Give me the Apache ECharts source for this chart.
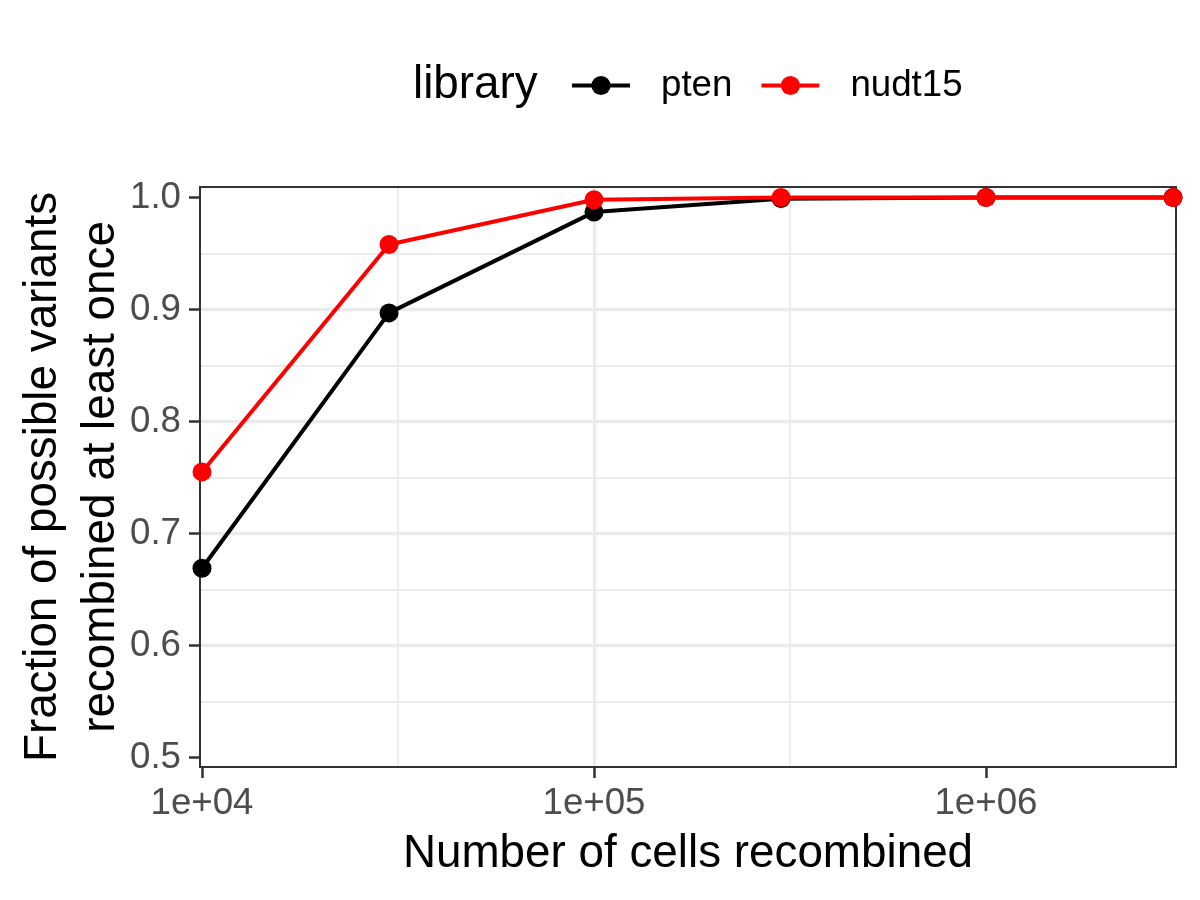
<!DOCTYPE html>
<html>
<head>
<meta charset="utf-8">
<script src="https://cdn.jsdelivr.net/npm/echarts@6/dist/echarts.min.js"></script>
<style>
  html, body { margin: 0; padding: 0; background: #ffffff; }
  #chart { width: 1200px; height: 900px; }
</style>
</head>
<body>
<div id="chart"></div>
<script>
// ---- data ----
const cells = [1e4, 3e4, 1e5, 3e5, 1e6, 3e6];
const ptenFraction = [0.669, 0.897, 0.987, 0.999, 1.0, 1.0];
const nudt15Fraction = [0.755, 0.958, 0.998, 1.0, 1.0, 1.0];
const seriesNames = ['pten', 'nudt15'];
const seriesColors = ['#000000', '#FF0000'];
const xTickValues = [1e4, 1e5, 1e6];
const xMinorGrid = [31623, 316228];
const yTickValues = [0.5, 0.6, 0.7, 0.8, 0.9, 1.0];
const legendTitle = 'library';
const xTitle = 'Number of cells recombined';
const yTitle = 'Fraction of possible variants\nrecombined at least once';

const FONT = '"Liberation Sans", Arial, Helvetica, sans-serif';
const GRID = { left: 200, right: 24, top: 187, bottom: 133 };

function pairs(xs, ys) { return xs.map((x, i) => [x, ys[i]]); }
function sciLabel(v) {
  const e = Math.round(Math.log10(v));
  if (Math.abs(Math.log10(v) - e) > 1e-6) return '';
  return '1e+' + String(e).padStart(2, '0');
}

const chart = echarts.init(document.getElementById('chart'), null, { renderer: 'canvas' });

const makeSeries = (name, ys, color, extra) => Object.assign({
  name: name,
  type: 'line',
  data: pairs(cells, ys),
  symbol: 'circle',
  symbolSize: 19,
  showSymbol: true,
  showAllSymbol: true,
  lineStyle: { color: color, width: 4 },
  itemStyle: { color: color },
  emphasis: { disabled: true },
  animation: false,
  z: 2
}, extra || {});

const option = {
  backgroundColor: '#ffffff',
  animation: false,
  title: {
    text: legendTitle,
    left: 413,
    top: 62,
    padding: 0,
    textStyle: { fontSize: 45.8, fontWeight: 'normal', color: '#000000', fontFamily: FONT, lineHeight: 46 }
  },
  legend: {
    data: seriesNames,
    left: 570,
    top: 67,
    orient: 'horizontal',
    itemWidth: 58,
    itemHeight: 24,
    itemGap: 27,
    padding: 0,
    selectedMode: false,
    lineStyle: { width: 4 },
    textStyle: { fontSize: 36.7, color: '#000000', fontFamily: FONT, padding: [0, 0, 0, 26] }
  },
  grid: Object.assign({ show: false, containLabel: false, outerBoundsMode: 'none' }, GRID),
  xAxis: {
    type: 'log',
    logBase: 10,
    min: 9883,
    max: 3053000,
    name: xTitle,
    nameLocation: 'middle',
    nameGap: 64,
    nameMoveOverlap: false,
    nameTextStyle: { fontSize: 45.8, color: '#000000', fontFamily: FONT, lineHeight: 46 },
    axisLine: { show: false },
    axisTick: { show: true, length: 11, customValues: xTickValues, lineStyle: { color: '#333333', width: 2.5 } },
    axisLabel: {
      show: true, customValues: xTickValues, formatter: sciLabel, margin: 18,
      fontSize: 36.7, color: '#4D4D4D', fontFamily: FONT, hideOverlap: false
    },
    splitLine: { show: true, showMinLine: false, showMaxLine: false, lineStyle: { color: '#EBEBEB', width: 3.3 } },
    minorTick: { show: false },
    minorSplitLine: { show: false }
  },
  yAxis: {
    type: 'value',
    min: 0.4915,
    max: 1.0094,
    name: yTitle,
    nameLocation: 'middle',
    nameGap: 70,
    nameMoveOverlap: false,
    nameTextStyle: { fontSize: 45.8, color: '#000000', fontFamily: FONT, lineHeight: 58, align: 'center' },
    axisLine: { show: false },
    axisTick: { show: true, length: 11, customValues: yTickValues, lineStyle: { color: '#333333', width: 2.5 } },
    axisLabel: {
      show: true, customValues: yTickValues, formatter: v => Number(v).toFixed(1), margin: 19,
      fontSize: 36.7, color: '#4D4D4D', fontFamily: FONT, hideOverlap: false
    },
    splitLine: { show: true, showMinLine: false, showMaxLine: false, lineStyle: { color: '#EBEBEB', width: 3.3 } },
    minorTick: { show: false, splitNumber: 2 },
    minorSplitLine: { show: true, lineStyle: { color: '#EBEBEB', width: 1.8 } }
  },
  graphic: [{
    type: 'rect',
    z: 1,
    silent: true,
    shape: { x: GRID.left, y: GRID.top, width: 1200 - GRID.left - GRID.right, height: 900 - GRID.top - GRID.bottom },
    style: { fill: 'none', stroke: '#333333', lineWidth: 2 }
  }],
  series: [
    makeSeries(seriesNames[0], ptenFraction, seriesColors[0], {
      markLine: {
        silent: true,
        z: 0.5,
        symbol: ['none', 'none'],
        label: { show: false },
        emphasis: { disabled: true },
        animation: false,
        lineStyle: { color: '#EBEBEB', width: 1.8, type: 'solid' },
        data: xMinorGrid.map(v => ({ xAxis: v }))
      }
    }),
    makeSeries(seriesNames[1], nudt15Fraction, seriesColors[1], { z: 3 })
  ]
};

chart.setOption(option);
</script>
</body>
</html>
